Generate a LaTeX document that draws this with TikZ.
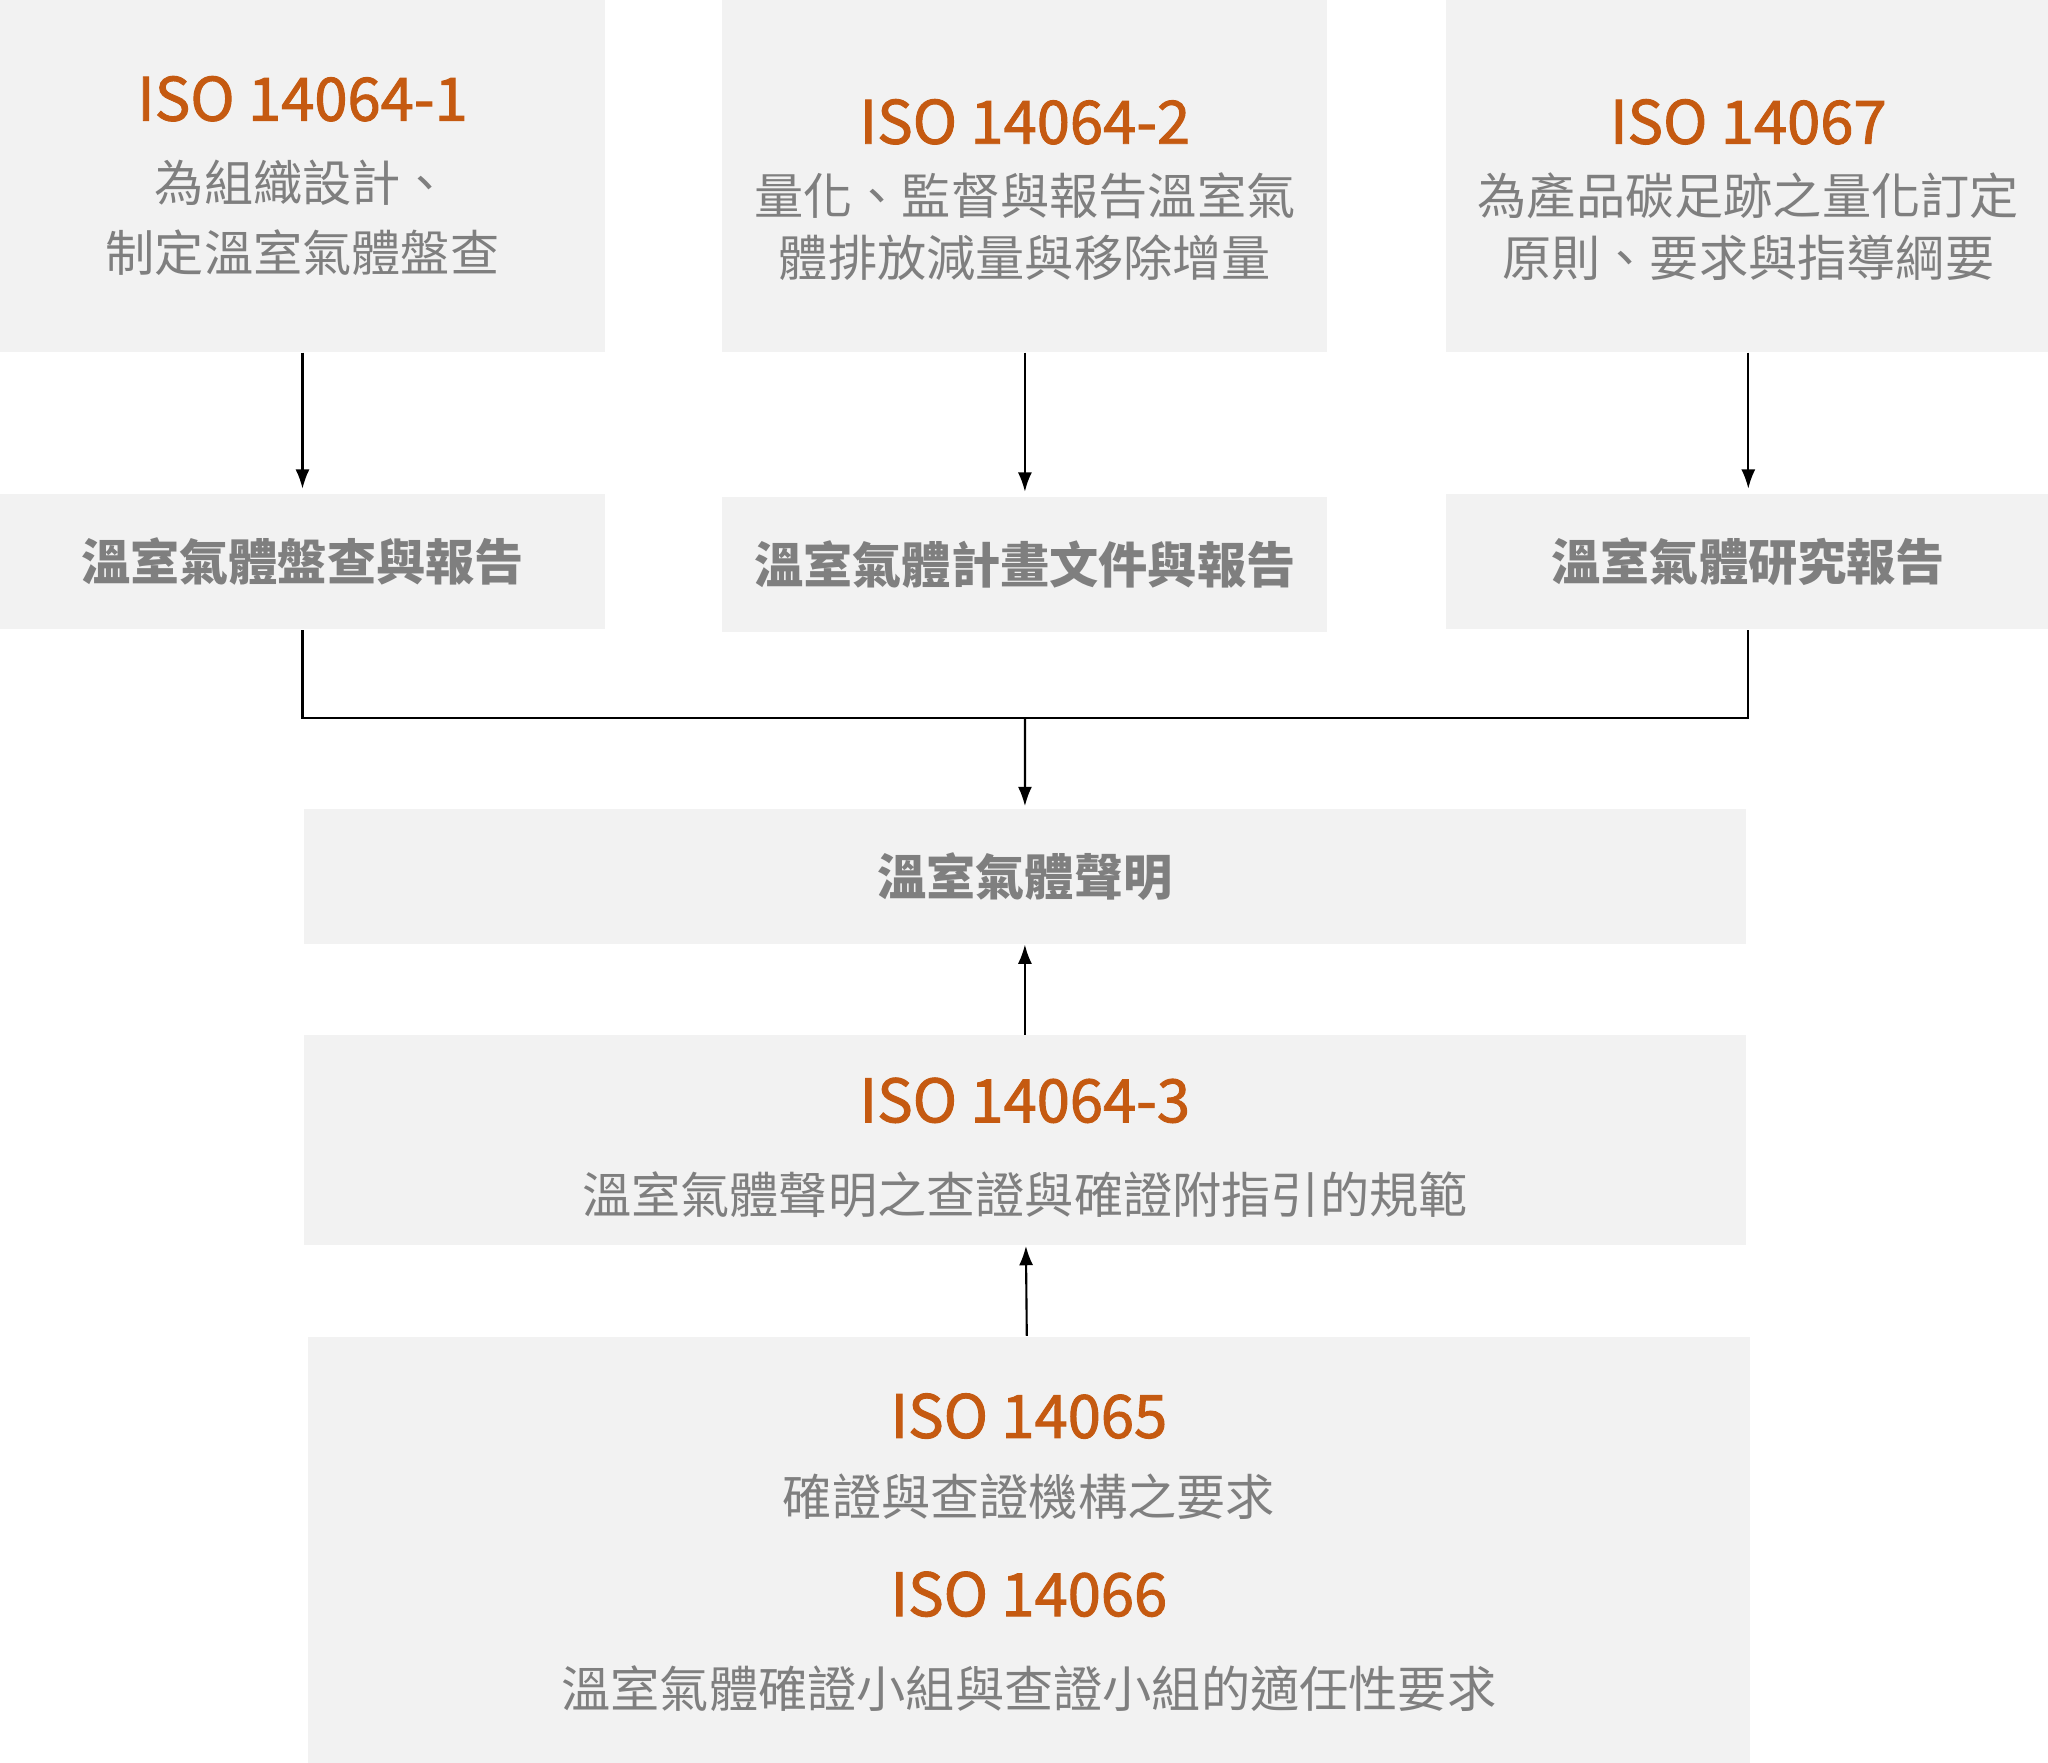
\documentclass[tikz,border=0pt]{standalone}
\usepackage{fontspec}
\setmainfont{Noto Sans CJK TC}
\newfontfamily\isofont[FakeBold=1.6]{Noto Sans CJK TC}
\usepackage{tikz}
\usetikzlibrary{arrows.meta,positioning}
\definecolor{boxgray}{HTML}{F2F2F2}
\definecolor{isoorange}{HTML}{C55A11}
\definecolor{textgray}{HTML}{7F7F7F}
\newcommand{\isoname}[1]{{\isofont\fontsize{17pt}{20pt}\selectfont\color{isoorange}#1}}

\begin{document}
\begin{tikzpicture}[
    >={Latex[length=5.5pt,width=4pt]},
    font=\fontsize{14pt}{20pt}\selectfont,
    std/.style={
		rectangle,
		fill=boxgray,
		text=textgray,
		align=center,
		inner sep=0pt,
		minimum width=6.05cm,
		minimum height=3.52cm
	},
	result/.style={
		std,
		font=\fontsize{14pt}{20pt}\selectfont\bfseries,
		minimum height=1.35cm
	},
	wide/.style={
		std,
		minimum width=14.42cm
	},
	link/.style={
		line width=0.6pt
	}
  ]
  \useasboundingbox (0,0) rectangle (20.48,-17.63);

    % We start by placing the standards on top
  \node [std] (iso1) at (3.025,-1.76)
 {\isoname{ISO 14064-1}\\[3pt]
  為組織設計、\\
  制定溫室氣體盤查};

  \node [std, right=1.16cm of iso1] (iso2)
 {\rule{0pt}{20.5pt}\isoname{ISO 14064-2}\\[0pt]
  量化、監督與報告溫室氣\\[-2.3pt]
  體排放減量與移除增量};

  \node [std, right=1.17cm of iso2] (iso7)
 {\rule{0pt}{20.5pt}\isoname{ISO 14067}\\[0pt]
  為產品碳足跡之量化訂定\\[-2.3pt]
  原則、要求與指導綱要};

    % then what each of them gives
  \node [result, below=1.41cm of iso1] (out1) {溫室氣體盤查與報告};
  \node [result, below=1.44cm of iso2] (out2) {溫室氣體計畫文件與報告};
  \node [result, below=1.41cm of iso7] (out7) {溫室氣體研究報告};

  \node [wide, result, minimum width=14.42cm, below=1.75cm of out2] (claim) {溫室氣體聲明};

  \node [wide, minimum height=2.10cm, below=0.90cm of claim] (iso3)
 {\rule{0pt}{17pt}\isoname{ISO 14064-3}\\[6pt]
  溫室氣體聲明之查證與確證附指引的規範};

  \node [wide, minimum height=4.32cm, below=0.90cm of iso3, xshift=0.04cm] (iso56)
 {\isoname{ISO 14065}\\[2.1pt]
  確證與查證機構之要求\\[8.6pt]
  \isoname{ISO 14066}\\[6.1pt]
  溫室氣體確證小組與查證小組的適任性要求};

 \draw [link,->,shorten >=0.05cm] (iso1) -- (out1);
 \draw [link,->,shorten >=0.05cm] (iso2) -- (out2);
 \draw [link,->,shorten >=0.05cm] (iso7) -- (out7);

 \coordinate (join) at (10.25,-7.18);
 \draw [link] (out1) |- (join) -| (out7);
 \draw [link,->,shorten >=0.02cm] (join) -- (claim);

 \draw [link,->] (iso3) -- (claim);
 \draw [link,->] (iso56) -- (iso3);

\end{tikzpicture}
\end{document}
